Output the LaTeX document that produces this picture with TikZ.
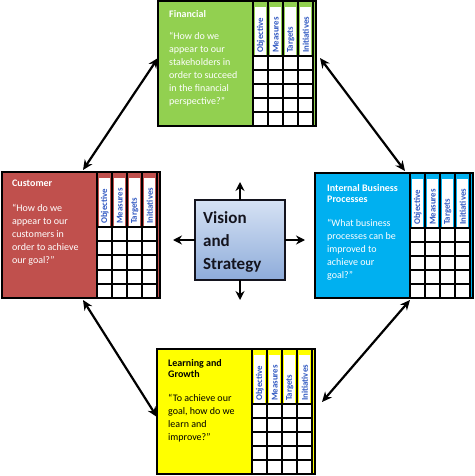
\documentclass[tikz,border=0pt]{standalone}
\usepackage{fontspec}
\setmainfont{Carlito}
\usetikzlibrary{arrows.meta,calc}
\definecolor{fingreen}{RGB}{146,208,80}
\definecolor{custred}{RGB}{192,80,77}
\definecolor{intblue}{RGB}{0,176,240}
\definecolor{learnyel}{RGB}{255,255,0}
\definecolor{hdrblue}{RGB}{50,90,195}
\definecolor{vistop}{RGB}{214,226,244}
\definecolor{visbot}{RGB}{142,172,218}
\definecolor{visink}{RGB}{20,20,30}
\tikzset{
  cardbox/.style={draw=none, inner sep=0pt, outer sep=0pt, minimum width=158pt, anchor=north west},
  gridline/.style={black, line width=2pt},
  cardborder/.style={black, line width=1.6pt},
  hdrlabel/.style={rotate=90, anchor=west, inner sep=0pt, font=\fontsize{8.8}{9}\selectfont\bfseries, text=hdrblue},
  cardtitle/.style={anchor=north west, inner sep=0pt, align=left, font=\fontsize{10}{11.7}\selectfont\bfseries},
  cardbody/.style={anchor=north west, inner sep=0pt, align=left, font=\fontsize{10}{13}\selectfont},
  conn/.style={line width=2.2pt, {Stealth[length=10pt,width=9pt]}-{Stealth[length=10pt,width=9pt]}},
  visarrow/.style={line width=2.2pt, -{Stealth[length=9pt,width=9pt]}},
  visbox/.style={draw=visink, line width=1.3pt, minimum width=90pt, minimum height=80pt, inner sep=0pt, outer sep=0pt, top color=vistop, bottom color=visbot},
  vistext/.style={anchor=north west, inner sep=0pt, align=left, text=visink, font=\fontsize{17}{23}\selectfont\bfseries},
}
\newcommand{\bsccard}[5]{%
  \node[cardbox, fill=#5, minimum height=#4pt] (#1) at (#2,#3) {};
  \begin{scope}[shift={(#1.north west)}]
    \foreach \i/\lab in {0/Objective,1/Measures,2/Targets,3/Initiatives}{
      \fill[white] (95+\i*15+1.5,6) rectangle (95+\i*15+13,55);
      \node[hdrlabel] (#1-h\i) at (95+\i*15+7.8,52) {\lab};
    }
    \fill[white] (95,55) rectangle (155,#4);
    \pgfmathsetmacro\rowh{(#4-55)/5}
    \foreach \j in {0,...,4} \draw[gridline] (95,55+\j*\rowh) -- (155,55+\j*\rowh);
    \foreach \i in {0,...,4} \draw[gridline] (95+\i*15,0) -- (95+\i*15,#4);
    \draw[cardborder] (0,0) rectangle (158,#4);
  \end{scope}
}
\begin{document}
\begin{tikzpicture}[x=1pt,y=-1pt]
\useasboundingbox[fill=white] (0,0) rectangle (474,476);

% cards
\bsccard{fin}{158}{1}{125}{fingreen}
\bsccard{cust}{2}{172}{126}{custred}
\bsccard{int}{315}{173}{125}{intblue}
\bsccard{learn}{157}{349}{125}{learnyel}

% card texts
\node[cardtitle, text=white] (fin-t) at ($(fin.north west)+(11,9)$) {Financial};
\node[cardbody, text=white] (fin-b) at ($(fin.north west)+(11,31)$) {“How do we\\appear to our\\stakeholders in\\order to succeed\\in the financial\\perspective?”};

\node[cardtitle, text=white] (cust-t) at ($(cust.north west)+(10,8)$) {Customer};
\node[cardbody, text=white] (cust-b) at ($(cust.north west)+(10,32)$) {“How do we\\appear to our\\customers in\\order to achieve\\our goal?”};

\node[cardtitle, text=white] (int-t) at ($(int.north west)+(12,11)$) {Internal Business\\Processes};
\node[cardbody, text=white] (int-b) at ($(int.north west)+(12,46)$) {“What business\\processes can be\\improved to\\achieve our\\goal?”};

\node[cardtitle, text=black] (learn-t) at ($(learn.north west)+(11,10)$) {Learning and\\Growth};
\node[cardbody, text=black] (learn-b) at ($(learn.north west)+(11,45)$) {“To achieve our\\goal, how do we\\learn and\\improve?”};

% vision box
\node[visbox] (vis) at (240,240) {};
\node[vistext] (vis-t) at ($(vis.north west)+(8,11)$) {Vision\\and\\Strategy};

\coordinate (vn) at ($(vis.north)+(0,-18)$);
\coordinate (vs) at ($(vis.south)+(0,20)$);
\coordinate (vw) at ($(vis.west)+(-22,0)$);
\coordinate (ve) at ($(vis.east)+(20,0)$);
\draw[visarrow] (vis.north) -- (vn);
\draw[visarrow] (vis.south) -- (vs);
\draw[visarrow] (vis.west) -- (vw);
\draw[visarrow] (vis.east) -- (ve);

% connector end points
\coordinate (fc1) at ($(fin.north west)+(0,57)$);
\coordinate (fc2) at ($(cust.north west)+(81,-2)$);
\coordinate (fi1) at ($(fin.north east)+(4,57)$);
\coordinate (fi2) at ($(int.north west)+(90,-2)$);
\coordinate (cl1) at ($(cust.south west)+(81,2)$);
\coordinate (cl2) at ($(learn.north west)+(0,68)$);
\coordinate (il1) at ($(int.south west)+(95,2)$);
\coordinate (il2) at ($(learn.north east)+(7,53)$);

\draw[conn] (fc1) -- (fc2);
\draw[conn] (fi1) -- (fi2);
\draw[conn] (cl1) -- (cl2);
\draw[conn] (il1) -- (il2);
\end{tikzpicture}
\end{document}
